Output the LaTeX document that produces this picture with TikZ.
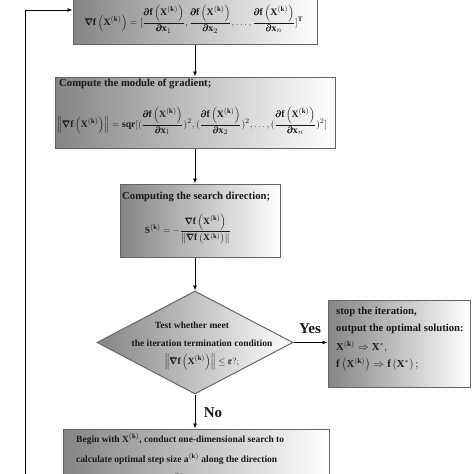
\documentclass[tikz,border=0pt]{standalone}
\usepackage{amsmath}
\usepackage{fontspec}
\setmainfont{Liberation Serif}
\usetikzlibrary{arrows.meta,shapes.geometric}
\newcommand{\myXk}{\mathbf{X}^{(\mathbf{k})}}
\newcommand{\myfX}{\mathbf{f}\left(\myXk\right)}
\newcommand{\mynab}{\pmb{\nabla}}
\newcommand{\mypf}[1]{\dfrac{\pmb{\partial}\mathbf{f}\left(\myXk\right)}{\pmb{\partial}\mathbf{x}_{#1}}}
\newcommand{\myformA}{$\mynab\myfX=[\mypf{1},\mypf{2},\dots,\mypf{n}]^{\mathbf{T}}$}
\newcommand{\myformB}{$\left\|\mynab\myfX\right\|=\mathbf{sqr}[(\mypf{1})^{2},(\mypf{2})^{2},\dots,(\mypf{n})^{2}]$}
\newcommand{\myformC}{$\mathbf{S}^{(\mathbf{k})}=-\dfrac{\mynab\myfX}{\left\|\mynab\myfX\right\|}$}
\newcommand{\myformD}{$\left\|\mynab\myfX\right\|\le\pmb{\varepsilon}\mathbf{?;}$}
\begin{document}
\begin{tikzpicture}[x=1pt,y=-1pt,
  boxstyle/.style={draw=black!60, line width=1pt, left color=black!48, right color=white, inner sep=0pt},
  txt/.style={font=\bfseries\fontsize{9.5}{11}\selectfont, inner sep=0pt, text=black!90},
  txtb/.style={font=\bfseries\fontsize{10.7}{12}\selectfont, inner sep=0pt, text=black!90},
  lbl/.style={font=\bfseries\fontsize{15}{17}\selectfont, inner sep=0pt, text=black!90},
  conn/.style={line width=0.9pt, -{Latex[length=5pt,width=4pt]}}]
\useasboundingbox (0,0) rectangle (474,474);
\clip (0,0) rectangle (474,474);
% boxes
\node[boxstyle, minimum width=244pt, minimum height=90pt] (box1) at (195,-1) {};
\node[boxstyle, minimum width=280pt, minimum height=71pt] (box2) at (195,112.5) {};
\node[boxstyle, minimum width=160pt, minimum height=73pt] (box3) at (200,220.5) {};
\node[boxstyle, diamond, minimum width=196pt, minimum height=103pt] (dia) at (195,342.5) {};
\node[boxstyle, minimum width=142pt, minimum height=87pt] (stop) at (399,343.5) {};
\node[boxstyle, minimum width=266pt, minimum height=80pt] (beginbox) at (196,469) {};
% texts
\node[txt] (t1) at (194,19) {\resizebox{218pt}{!}{\myformA}};
\node[txtb, anchor=west] (t2a) at (59,84) {Compute the module of gradient;};
\node[txt, anchor=west] (t2b) at (57,121) {\resizebox{270pt}{!}{\myformB}};
\node[txtb, anchor=west] (t3a) at (122,197) {Computing the search direction;};
\node[txt] (t3b) at (188,229) {\myformC};
\node[txt] (d1) at (192,325) {Test whether meet};
\node[txt] (d2) at (202,343) {the iteration termination condition};
\node[txt] (d3) at (202,362) {\myformD};
\node[txtb, anchor=west] (s1) at (336,312) {stop the iteration,};
\node[txtb, anchor=west] (s2) at (336,329) {output the optimal solution:};
\node[txtb, anchor=west] (s3) at (336,347) {$\myXk\Rightarrow\mathbf{X}^{*}\mathbf{,}$};
\node[txtb, anchor=west] (s4) at (336,365) {$\myfX\Rightarrow\mathbf{f}\left(\mathbf{X}^{*}\right)\mathbf{;}$};
\node[txt, anchor=west] (b1) at (76,439) {Begin with $\myXk$, conduct one-dimensional search to};
\node[txt, anchor=west] (b2) at (76,459) {calculate optimal step size $\mathbf{a}^{(\mathbf{k})}$ along the direction};
\node[txt, anchor=west] (b3) at (76,479) {of the search direction $\mathbf{S}^{(\mathbf{k})}$;};
\node[lbl] (yes) at (310,329) {Yes};
\node[lbl] (no) at (213,413) {No};
% connectors
\coordinate (loopbot) at (25,490);
\coordinate (loopy) at (0,10);
\draw[conn] (box1.south) -- (box1.south |- box2.north);
\draw[conn] (box2.south) -- (box2.south |- box3.north);
\draw[conn] (box2.south |- box3.south) -- (dia.north);
\draw[conn] (dia.east) -- (dia.east -| stop.west);
\draw[conn] (dia.south) -- (dia.south |- beginbox.north);
\draw[conn] (loopbot) |- (box1.west |- loopy);
\end{tikzpicture}
\end{document}
